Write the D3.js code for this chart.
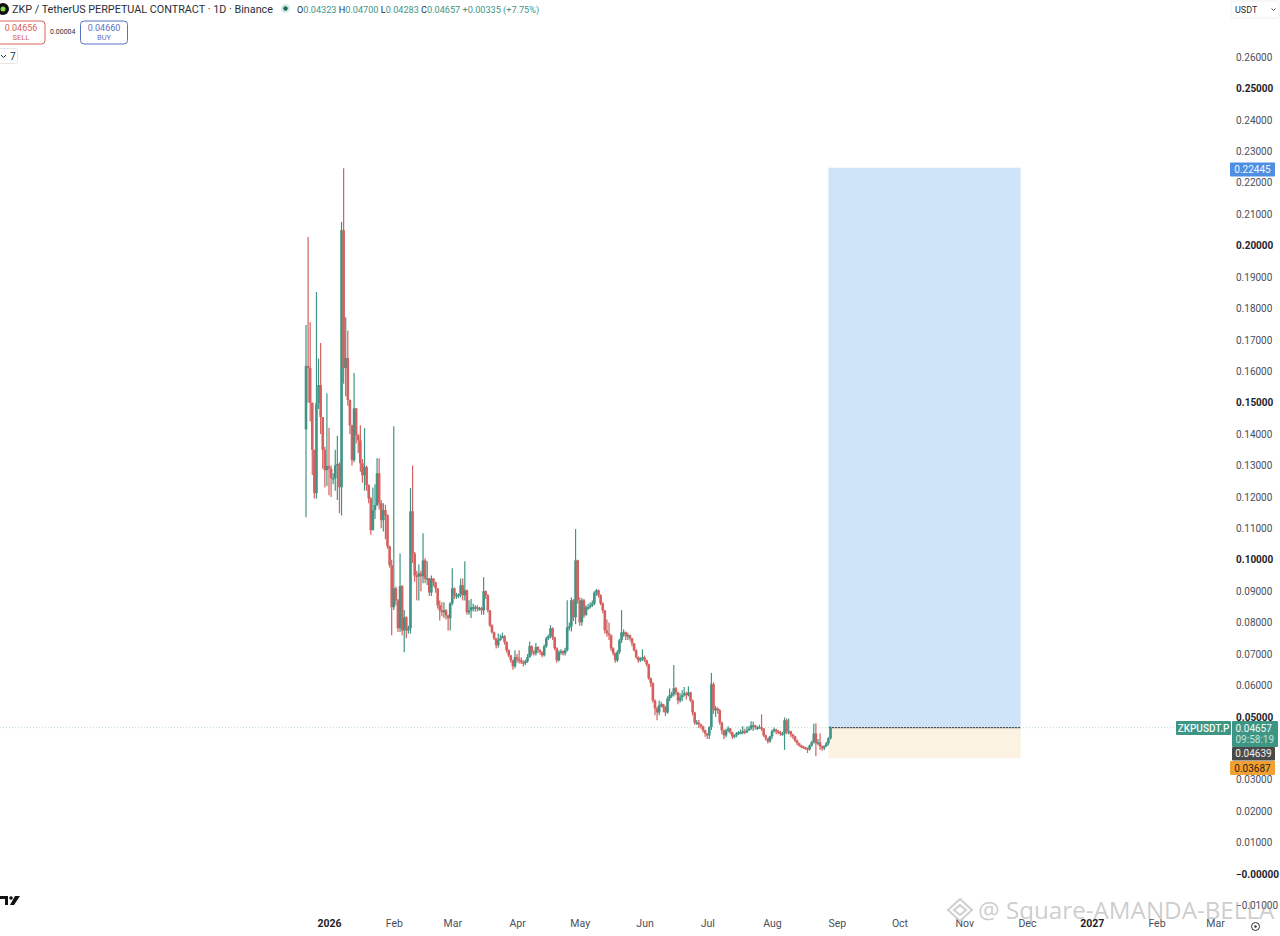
<!DOCTYPE html>
<html>
<head>
<meta charset="utf-8">
<script src="https://cdn.jsdelivr.net/npm/d3@7"></script>
<style>
  html, body { margin: 0; padding: 0; background: #fff; }
  svg { display: block; font-family: Roboto, "Open Sans", sans-serif; }
</style>
</head>
<body>
<svg width="1280" height="936"></svg>
<script>
// daily candles, first one is 21 Dec 2025
const firstOpen = 0.1415;
const closes = [
  .1617,.1610,.1500,.1350,.1212,.1498,.1556,.1454,.1350,.1285,
  .1298,.1290,.1260,.1260,.1300,.1305,.1231,.2049,.1610,.1642,
  .1508,.1428,.1317,.1482,.1396,.1380,.1307,.1269,.1295,.1237,
  .1195,.1094,.1158,.1174,.1275,.1180,.1126,.1158,.1142,.1043,
  .0983,.0849,.0909,.0871,.0782,.0916,.0775,.0817,.0775,.0782,
  .1154,.1020,.0950,.0947,.0957,.0947,.0998,.0940,.0941,.0896,
  .0940,.0928,.0909,.0855,.0839,.0833,.0839,.0823,.0814,.0861,
  .0909,.0887,.0887,.0890,.0919,.0887,.0903,.0833,.0839,.0849,
  .0849,.0849,.0846,.0846,.0839,.0900,.0887,.0839,.0791,.0769,
  .0750,.0728,.0744,.0750,.0757,.0738,.0712,.0696,.0680,.0661,
  .0690,.0683,.0680,.0674,.0671,.0677,.0690,.0725,.0706,.0702,
  .0722,.0712,.0706,.0696,.0725,.0750,.0757,.0782,.0753,.0718,
  .0680,.0706,.0709,.0702,.0712,.0785,.0788,.0871,.0817,.0998,
  .0871,.0801,.0871,.0823,.0849,.0849,.0855,.0861,.0896,.0903,
  .0887,.0861,.0839,.0775,.0766,.0760,.0718,.0702,.0680,.0706,
  .0744,.0769,.0769,.0757,.0760,.0750,.0734,.0712,.0690,.0680,
  .0686,.0690,.0680,.0667,.0623,.0607,.0552,.0527,.0514,.0537,
  .0540,.0530,.0514,.0559,.0569,.0572,.0591,.0578,.0552,.0562,
  .0569,.0575,.0569,.0578,.0552,.0514,.0482,.0482,.0476,.0470,
  .0457,.0447,.0441,.0467,.0604,.0521,.0527,.0521,.0482,.0457,
  .0441,.0457,.0463,.0451,.0438,.0441,.0447,.0451,.0451,.0454,
  .0451,.0457,.0463,.0473,.0473,.0467,.0467,.0467,.0463,.0441,
  .0432,.0422,.0438,.0454,.0460,.0454,.0451,.0447,.0447,.0489,
  .0454,.0454,.0444,.0438,.0425,.0416,.0409,.0406,.0403,.0400,
  .0397,.0409,.0419,.0447,.0416,.0419,.0406,.0400,.0406,.0416,.0432,.04657
];
const highs = [
  .1747,.2027,.1756,.1500,.1350,.1852,.1640,.1690,.1454,.1360,
  .1530,.1420,.1300,.1275,.1350,.1395,.1310,.2075,.2246,.1772,
  .1730,.1510,.1430,.1594,.1482,.1400,.1428,.1320,.1419,.1300,
  .1240,.1200,.1230,.1240,.1323,.1323,.1190,.1180,.1175,.1145,
  .1045,.1000,.1425,.0915,.0875,.1020,.0920,.0840,.0820,.0790,
  .1228,.1300,.1025,.0965,.0985,.0965,.1084,.1005,.0995,.0942,
  .0950,.0942,.0930,.0910,.0870,.0865,.0865,.0843,.0825,.0865,
  .0973,.0912,.0895,.0893,.0940,.0940,.0995,.0905,.0871,.0875,
  .0860,.0855,.0855,.0850,.0850,.0944,.0902,.0890,.0840,.0795,
  .0772,.0750,.0765,.0762,.0768,.0760,.0740,.0715,.0698,.0682,
  .0712,.0700,.0712,.0690,.0680,.0682,.0700,.0740,.0728,.0712,
  .0735,.0725,.0715,.0708,.0730,.0755,.0762,.0792,.0785,.0755,
  .0722,.0712,.0715,.0712,.0720,.0871,.0800,.0880,.0875,.1098,
  .1000,.0880,.0878,.0875,.0855,.0860,.0865,.0870,.0900,.0907,
  .0905,.0890,.0865,.0840,.0810,.0800,.0762,.0722,.0705,.0712,
  .0748,.0840,.0778,.0772,.0768,.0762,.0752,.0735,.0715,.0692,
  .0690,.0715,.0695,.0682,.0670,.0625,.0610,.0555,.0532,.0552,
  .0548,.0542,.0535,.0565,.0590,.0580,.0665,.0595,.0580,.0575,
  .0585,.0595,.0580,.0597,.0580,.0555,.0516,.0490,.0490,.0478,
  .0472,.0460,.0448,.0470,.0640,.0610,.0535,.0530,.0525,.0485,
  .0460,.0462,.0470,.0465,.0453,.0445,.0452,.0455,.0460,.0470,
  .0462,.0470,.0470,.0486,.0485,.0475,.0470,.0475,.0508,.0465,
  .0445,.0432,.0440,.0460,.0466,.0462,.0458,.0455,.0452,.0498,
  .0495,.0495,.0456,.0446,.0440,.0428,.0418,.0412,.0408,.0405,
  .0403,.0412,.0424,.0478,.0480,.0430,.0448,.0410,.0410,.0420,.0435,.0470
];
const lows = [
  .1135,.1500,.1440,.1270,.1195,.1195,.1480,.1400,.1290,.1230,
  .1235,.1205,.1200,.1240,.1220,.1190,.1148,.1141,.1560,.1520,
  .1490,.1400,.1300,.1310,.1370,.1340,.1280,.1245,.1220,.1220,
  .1180,.1080,.1095,.1130,.1170,.1160,.1100,.1090,.1065,.1035,
  .0975,.0760,.0840,.0855,.0770,.0770,.0760,.0706,.0750,.0765,
  .0765,.0990,.0930,.0871,.0870,.0900,.0925,.0925,.0920,.0885,
  .0885,.0915,.0895,.0845,.0807,.0820,.0815,.0810,.0775,.0775,
  .0855,.0875,.0875,.0878,.0880,.0870,.0870,.0825,.0825,.0815,
  .0835,.0835,.0835,.0838,.0825,.0825,.0875,.0832,.0785,.0765,
  .0745,.0718,.0720,.0742,.0750,.0730,.0705,.0690,.0672,.0650,
  .0655,.0672,.0670,.0668,.0660,.0665,.0672,.0688,.0695,.0695,
  .0695,.0703,.0698,.0690,.0692,.0720,.0745,.0750,.0745,.0712,
  .0672,.0676,.0698,.0695,.0695,.0708,.0775,.0772,.0805,.0795,
  .0860,.0790,.0790,.0815,.0825,.0840,.0845,.0850,.0855,.0885,
  .0880,.0855,.0830,.0765,.0755,.0745,.0710,.0695,.0672,.0675,
  .0700,.0735,.0755,.0745,.0745,.0742,.0725,.0708,.0685,.0672,
  .0675,.0678,.0675,.0660,.0618,.0595,.0545,.0505,.0489,.0505,
  .0530,.0515,.0503,.0510,.0550,.0560,.0565,.0570,.0540,.0545,
  .0550,.0565,.0555,.0565,.0548,.0505,.0475,.0475,.0465,.0462,
  .0450,.0437,.0430,.0430,.0458,.0510,.0500,.0510,.0475,.0445,
  .0430,.0435,.0450,.0445,.0430,.0432,.0435,.0442,.0445,.0445,
  .0445,.0448,.0455,.0458,.0455,.0460,.0458,.0462,.0455,.0437,
  .0425,.0415,.0418,.0430,.0450,.0445,.0445,.0440,.0440,.0395,
  .0445,.0445,.0435,.0430,.0420,.0410,.0405,.0400,.0398,.0395,
  .0385,.0392,.0405,.0415,.0375,.0410,.0395,.0392,.0395,.0405,.0410,.0428
];

const priceTicks = d3.range(-1, 27).map(d => d / 100);
const boldPrices = [0, 0.05, 0.10, 0.15, 0.20, 0.25];
const monthTicks = ['2026-01-01','2026-02-01','2026-03-01','2026-04-01','2026-05-01','2026-06-01','2026-07-01','2026-08-01','2026-09-01','2026-10-01','2026-11-01','2026-12-01','2027-01-01','2027-02-01','2027-03-01'];
const monthLabels = ['2026','Feb','Mar','Apr','May','Jun','Jul','Aug','Sep','Oct','Nov','Dec','2027','Feb','Mar'];

const lastPrice = 0.04657;
const targetPrice = 0.22445;
const stopPrice = 0.03687;
const markPrice = 0.04639;
const toolStart = '2026-08-28';
const toolEnd = '2026-11-28';

const upColor = '#3f9485';
const downColor = '#d4605e';

const svg = d3.select('svg');

const x = d3.scaleUtc()
    .domain([new Date('2026-01-01'), new Date('2027-03-01')])
    .range([329, 1215]);
const y = d3.scaleLinear()
    .domain([0, 0.26])
    .range([874, 57]);

const dates = closes.map((d, i) => d3.utcDay.offset(new Date('2025-12-21'), i));
const candles = closes.map((c, i) => ({
    date: dates[i],
    open: i ? closes[i - 1] : firstOpen,
    close: c,
    high: highs[i],
    low: lows[i]
}));

const defs = svg.append('defs');
defs.append('filter').attr('id', 'soft')
    .attr('filterUnits', 'userSpaceOnUse')
    .attr('x', 280).attr('y', 140).attr('width', 580).attr('height', 640)
  .append('feGaussianBlur').attr('stdDeviation', 0.75);

// long position tool
const tool = svg.append('g');
tool.append('rect')
    .attr('x', x(new Date(toolStart)))
    .attr('y', y(targetPrice) - 1)
    .attr('width', x(new Date(toolEnd)) - x(new Date(toolStart)))
    .attr('height', y(lastPrice) - y(targetPrice) + 1)
    .attr('fill', '#cfe3f9');
tool.append('rect')
    .attr('x', x(new Date(toolStart)))
    .attr('y', y(lastPrice))
    .attr('width', x(new Date(toolEnd)) - x(new Date(toolStart)))
    .attr('height', y(stopPrice) - y(lastPrice))
    .attr('fill', '#fbf2e1');

// last price line
svg.append('line')
    .attr('x1', 0).attr('x2', 1176)
    .attr('y1', y(lastPrice)).attr('y2', y(lastPrice))
    .attr('stroke', '#bcdcd3')
    .attr('stroke-dasharray', '1 2');

tool.append('line')
    .attr('x1', x(new Date(toolStart))).attr('x2', x(new Date(toolEnd)))
    .attr('y1', y(lastPrice)).attr('y2', y(lastPrice))
    .attr('stroke', '#333');

// candles
const candleLayer = svg.append('g')
    .attr('filter', 'url(#soft)');
const candle = candleLayer.selectAll('g')
  .data(candles)
  .join('g')
    .attr('stroke', d => d.close >= d.open ? upColor : downColor)
    .attr('fill', d => d.close >= d.open ? upColor : downColor);

candle.append('line')
    .attr('x1', d => x(d.date)).attr('x2', d => x(d.date))
    .attr('y1', d => y(d.high)).attr('y2', d => y(d.low))
    .attr('stroke-width', 1.2);

candle.append('rect')
    .attr('x', d => x(d.date) - 1.3)
    .attr('width', 2.6)
    .attr('y', d => y(Math.max(d.open, d.close)))
    .attr('height', d => Math.max(1.5, Math.abs(y(d.open) - y(d.close))))
    .attr('stroke', 'none');

// axes
const yAxis = d3.axisRight(y)
    .tickValues(priceTicks)
    .tickSize(0)
    .tickPadding(0)
    .tickFormat(d => (d <= 0 ? '\u2212' : '') + Math.abs(d).toFixed(5));
const yAxisG = svg.append('g')
    .attr('transform', 'translate(1236,0)')
    .call(yAxis);
yAxisG.select('.domain').remove();
yAxisG.selectAll('text')
    .style('font-size', '10px')
    .style('font-family', 'Roboto, sans-serif')
    .style('font-weight', d => boldPrices.includes(d) ? 700 : 400)
    .style('fill', d => boldPrices.includes(d) ? '#1f222b' : '#4a4e59');

const xAxis = d3.axisBottom(x)
    .tickValues(monthTicks.map(d => new Date(d)))
    .tickSize(0)
    .tickPadding(0)
    .tickFormat((d, i) => monthLabels[i]);
const xAxisG = svg.append('g')
    .attr('transform', 'translate(0,920)')
    .call(xAxis);
xAxisG.select('.domain').remove();
xAxisG.selectAll('text')
    .style('font-size', '10.5px')
    .style('font-family', 'Roboto, sans-serif')
    .style('font-weight', (d, i) => monthLabels[i].length === 4 ? 700 : 400)
    .style('fill', (d, i) => monthLabels[i].length === 4 ? '#1f222b' : '#4a4e59');

// price badges on the right
function badge(x0, y0, w, h, fill, label, color, weight) {
    svg.append('rect')
        .attr('x', x0).attr('y', y0).attr('width', w).attr('height', h)
        .attr('rx', 1)
        .attr('fill', fill);
    if (label) svg.append('text')
        .attr('x', x0 + w / 2).attr('y', y0 + h / 2 + 3.5)
        .attr('text-anchor', 'middle')
        .attr('font-size', 10)
        .attr('font-weight', weight || 400)
        .attr('fill', color)
        .text(label);
}
const fmt = d3.format('.5f');
badge(1230, 162.5, 45, 14, '#4f8fe3', fmt(targetPrice), '#f2f7ff');
badge(1176, 721, 55, 14, '#3f9584', 'ZKPUSDT.P', '#f2fbf8', 500);
badge(1232, 721, 46, 26, '#3f9584', null);
svg.append('text').attr('x', 1235.5).attr('y', 732).attr('font-size', 10).attr('fill', '#f2fbf8').text(fmt(lastPrice));
svg.append('text').attr('x', 1235.5).attr('y', 743).attr('font-size', 10).attr('fill', '#bfe3da').text('09:58:19');
badge(1232, 747, 43, 13.5, '#4a4a4a', fmt(markPrice), '#f2f2f2');
badge(1230, 761, 45, 14, '#f1a033', fmt(stopPrice), '#2b2210');

// header
svg.append('circle').attr('cx', 3).attr('cy', 9).attr('r', 6).attr('fill', '#111');
svg.append('circle').attr('cx', 3).attr('cy', 9).attr('r', 2.5).attr('fill', '#7ee04a');
svg.append('text')
    .attr('x', 12).attr('y', 13)
    .attr('font-size', 10.8)
    .attr('fill', '#2a2e39')
    .text('ZKP / TetherUS PERPETUAL CONTRACT · 1D · Binance');
svg.append('circle').attr('cx', 285.5).attr('cy', 8.5).attr('r', 4.5).attr('fill', '#d5ebe6');
svg.append('circle').attr('cx', 285.5).attr('cy', 8.5).attr('r', 2.2).attr('fill', '#1e6b5c');

const ohlcLine = svg.append('text')
    .attr('x', 297).attr('y', 12.5)
    .attr('font-size', 9.15);
[['O', '0.04323'], ['H', '0.04700'], ['L', '0.04283'], ['C', '0.04657']].forEach(([k, v]) => {
    ohlcLine.append('tspan').attr('fill', '#2a2e39').text(k);
    ohlcLine.append('tspan').attr('fill', '#3f9584').text(v + ' ');
});
ohlcLine.append('tspan').attr('fill', '#3f9584').text('+0.00335 (+7.75%)');

function tradeBox(x0, w, color, price, label) {
    svg.append('rect')
        .attr('x', x0).attr('y', 21).attr('width', w).attr('height', 23)
        .attr('rx', 3.5)
        .attr('fill', '#fff')
        .attr('stroke', color);
    svg.append('text').attr('x', x0 + w / 2).attr('y', 30.5)
        .attr('text-anchor', 'middle').attr('font-size', 9).attr('fill', color).text(price);
    svg.append('text').attr('x', x0 + w / 2).attr('y', 40)
        .attr('text-anchor', 'middle').attr('font-size', 7.5).attr('fill', color).text(label);
}
tradeBox(-3, 48, '#d9605c', '0.04656', 'SELL');
tradeBox(80.5, 47, '#5b73c4', '0.04660', 'BUY');
svg.append('text').attr('x', 50).attr('y', 34).attr('font-size', 7).attr('fill', '#2a2e39').text('0.00004');

svg.append('rect').attr('x', -3).attr('y', 48.5).attr('width', 20.5).attr('height', 15)
    .attr('rx', 2).attr('fill', '#fff').attr('stroke', '#e4e5e8');
svg.append('path').attr('d', 'M1 55 L3.5 57.5 L6 55').attr('fill', 'none').attr('stroke', '#2a2e39');
svg.append('text').attr('x', 10).attr('y', 59.5).attr('font-size', 10).attr('fill', '#2a2e39').text('7');

// currency switch
svg.append('rect').attr('x', 1231).attr('y', 1).attr('width', 48).attr('height', 17)
    .attr('rx', 2).attr('fill', '#fff').attr('stroke', '#f0f1f3');
svg.append('text').attr('x', 1235).attr('y', 13).attr('font-size', 9).attr('fill', '#2a2e39').text('USDT');
svg.append('path').attr('d', 'M1271.5 8.5 L1273.5 10.5 L1275.5 8.5').attr('fill', 'none').attr('stroke', '#555');

// logo bottom left
svg.append('path').attr('d', 'M0 896 H8 V905 H5 V899 H0 Z M15 896 H20 L14 905 H10 Z').attr('fill', '#111');
svg.append('circle').attr('cx', 11).attr('cy', 898).attr('r', 1.8).attr('fill', '#111');

// settings icon
svg.append('circle').attr('cx', 1255.5).attr('cy', 926.5).attr('r', 4).attr('fill', 'none').attr('stroke', '#333');
svg.append('circle').attr('cx', 1255.5).attr('cy', 926.5).attr('r', 1.2).attr('fill', '#333');

// watermark
svg.append('path')
    .attr('d', 'M960 899 L972 910 L960 921 L948 910 Z M960 905 L966 910 L960 915 L954 910 Z')
    .attr('fill', 'none').attr('stroke', '#cfcfcf').attr('stroke-width', 2);
svg.append('text')
    .attr('x', 978).attr('y', 919)
    .attr('font-size', 24.2)
    .attr('fill', '#9b9b9b')
    .attr('fill-opacity', 0.5)
    .style('font-family', '"Open Sans", sans-serif')
    .text('@ Square-AMANDA-BELLA');
</script>
</body>
</html>
